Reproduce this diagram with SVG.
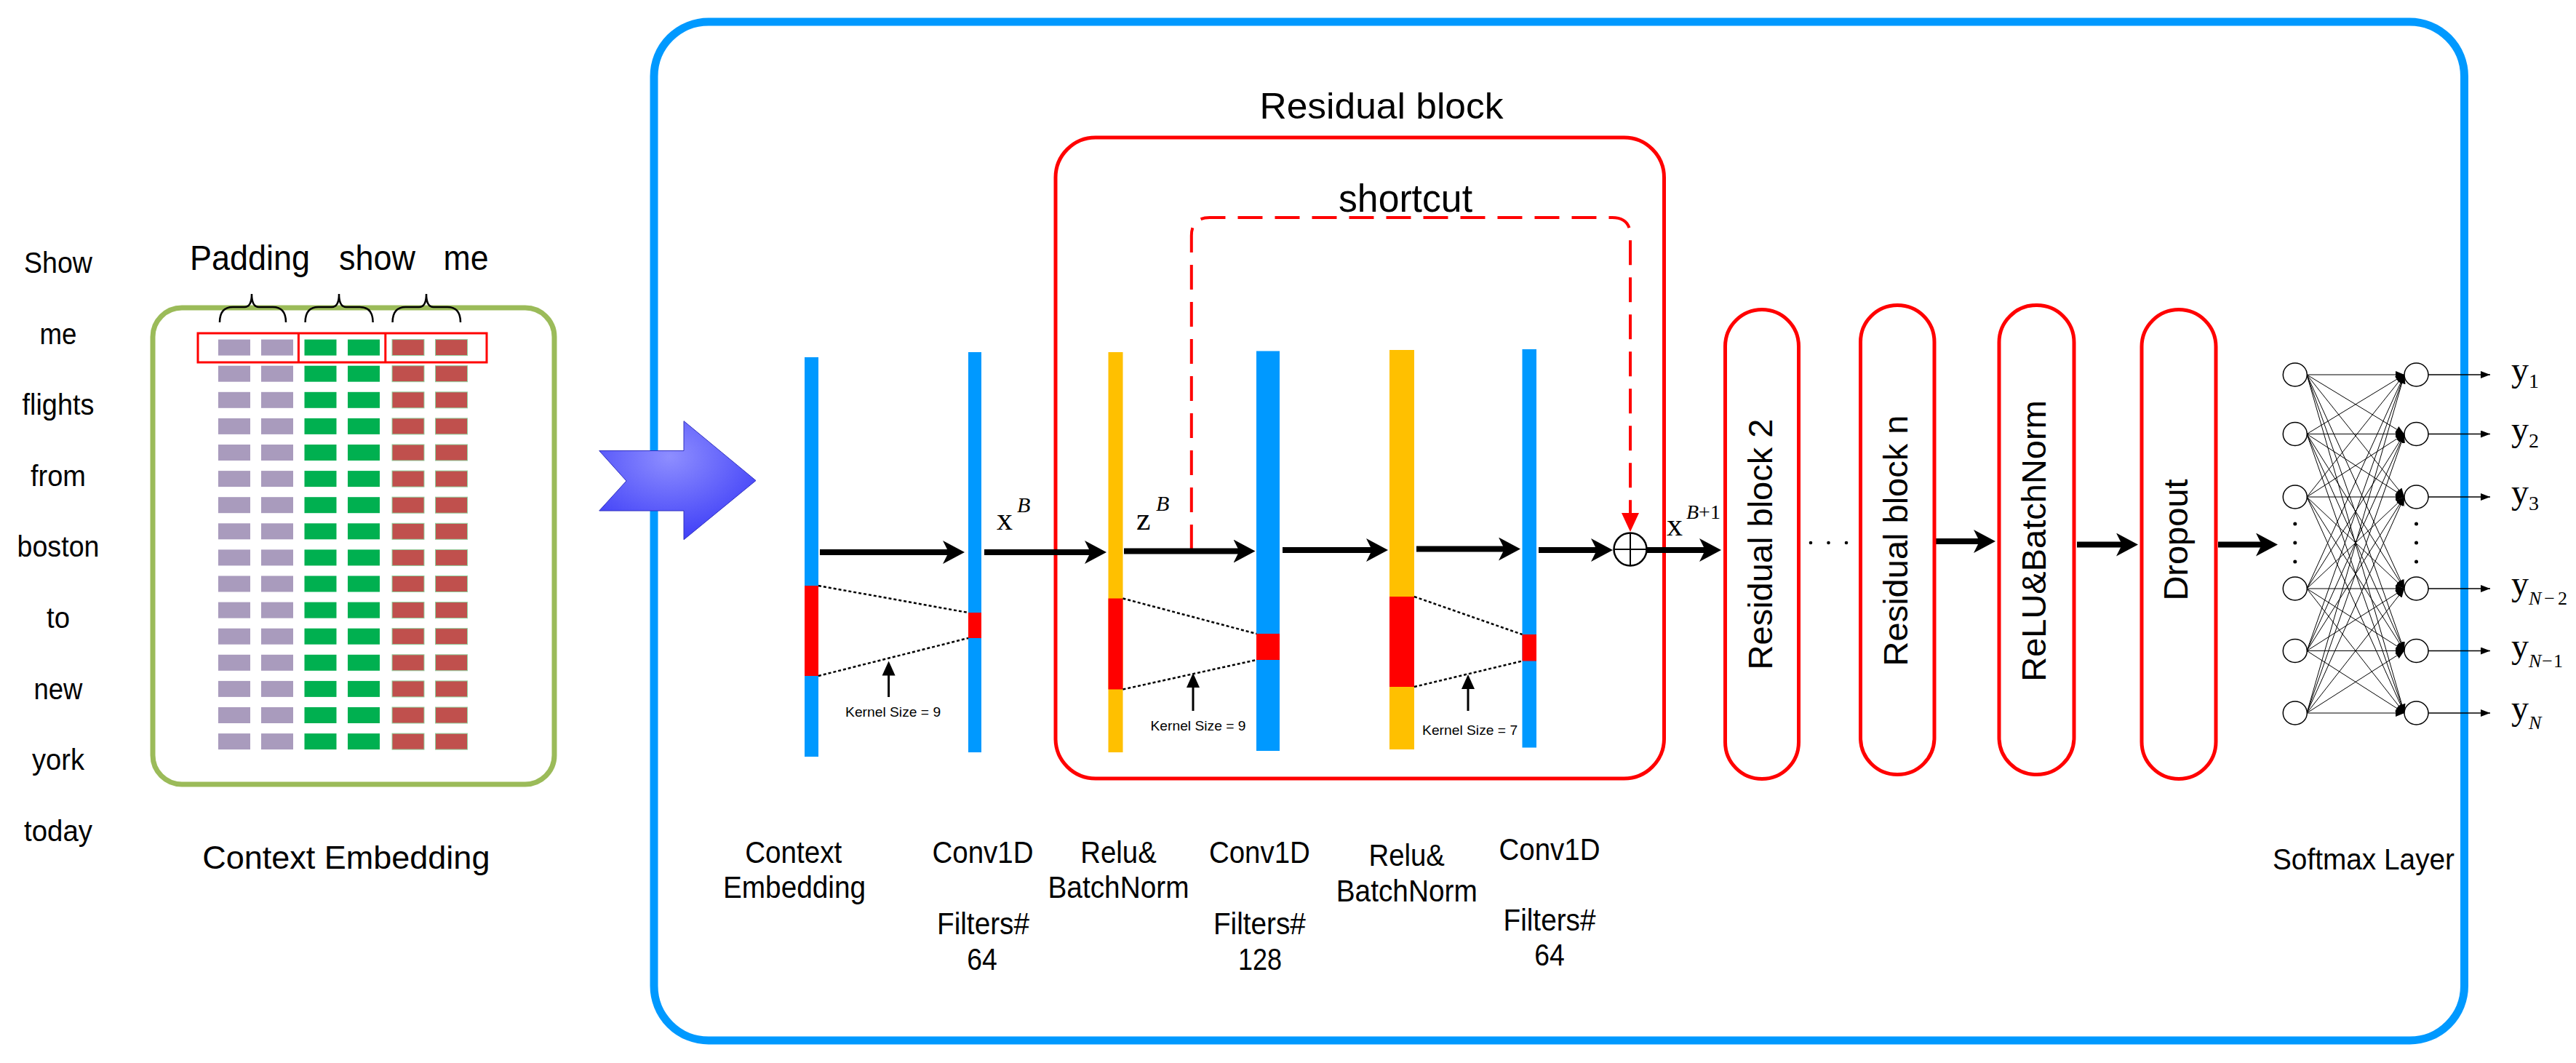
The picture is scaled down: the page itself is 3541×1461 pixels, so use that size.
<svg xmlns="http://www.w3.org/2000/svg" width="3541" height="1461" viewBox="0 0 3541 1461">
<defs>
<style>
.sans{font-family:"Liberation Sans",Arial,sans-serif;fill:#000}
.serif{font-family:"Liberation Serif","Times New Roman",serif;fill:#000}
.word{font-size:40px;text-anchor:middle}
.lbl{font-size:42px;text-anchor:middle}
.ks{font-size:19px;text-anchor:middle}
.pill{fill:#fff;stroke:#FF0000;stroke-width:5}
.ptxt{font-size:47px;text-anchor:middle}
.cp{fill:#A99BBD}
.cg{fill:#00B050}
.cr{fill:#C0504D;stroke:#8FD19E;stroke-width:1}
.blue{fill:#0099FF}
.yel{fill:#FFC000}
.red{fill:#FF0000}
.thick{stroke:#000;stroke-width:8;fill:none;marker-end:url(#big)}
.dot{stroke:#000;stroke-width:2.5;stroke-dasharray:4 3;fill:none}
.karr{stroke:#000;stroke-width:3;marker-end:url(#kh)}
.nn line{stroke:#000;stroke-width:1;marker-end:url(#nh)}
.node{fill:#fff;stroke:#000;stroke-width:1.5}
.out{stroke:#000;stroke-width:1.3;marker-end:url(#oh)}
.brace{fill:none;stroke:#000;stroke-width:2.5}
</style>
<marker id="big" markerUnits="userSpaceOnUse" viewBox="0 -16 30 32" refX="14" refY="0" markerWidth="30" markerHeight="32" orient="auto"><path d="M0,-16 L30,0 L0,16 L8,0 Z" fill="#000"/></marker>
<marker id="kh" markerUnits="userSpaceOnUse" viewBox="0 -10 20 20" refX="10" refY="0" markerWidth="20" markerHeight="20" orient="auto"><path d="M0,-9 L20,0 L0,9 Z" fill="#000"/></marker>
<marker id="nh" markerUnits="userSpaceOnUse" viewBox="0 -5 12 10" refX="12" refY="0" markerWidth="12" markerHeight="10" orient="auto"><path d="M0,-5 L12,0 L0,5 Z" fill="#000"/></marker>
<marker id="oh" markerUnits="userSpaceOnUse" viewBox="0 -5 13 10" refX="13" refY="0" markerWidth="13" markerHeight="10" orient="auto"><path d="M0,-5 L13,0 L0,5 Z" fill="#000"/></marker>
<radialGradient id="ag" cx="0.45" cy="0.3" r="0.8">
<stop offset="0" stop-color="#8E8EFF"/>
<stop offset="1" stop-color="#3434F6"/>
</radialGradient>
</defs>
<rect width="3541" height="1461" fill="#fff"/>

<g id="words">
<text class="sans word" x="80" y="375" textLength="94" lengthAdjust="spacingAndGlyphs">Show</text>
<text class="sans word" x="80" y="472.6" textLength="51" lengthAdjust="spacingAndGlyphs">me</text>
<text class="sans word" x="80" y="570.2" textLength="99" lengthAdjust="spacingAndGlyphs">flights</text>
<text class="sans word" x="80" y="667.8" textLength="76" lengthAdjust="spacingAndGlyphs">from</text>
<text class="sans word" x="80" y="765.4" textLength="113" lengthAdjust="spacingAndGlyphs">boston</text>
<text class="sans word" x="80" y="863" textLength="32" lengthAdjust="spacingAndGlyphs">to</text>
<text class="sans word" x="80" y="960.6" textLength="67" lengthAdjust="spacingAndGlyphs">new</text>
<text class="sans word" x="80" y="1058.2" textLength="72" lengthAdjust="spacingAndGlyphs">york</text>
<text class="sans word" x="80" y="1155.8" textLength="94" lengthAdjust="spacingAndGlyphs">today</text>
</g>

<g id="context-embedding">
<rect x="210" y="423" width="552" height="655" rx="40" fill="#fff" stroke="#9BBB59" stroke-width="7"/>
<g id="cells">
<g id="row0" transform="translate(0,466.6)"><rect class="cp" x="300" width="44" height="22"/><rect class="cp" x="359" width="44" height="22"/><rect class="cg" x="418.5" width="44" height="22"/><rect class="cg" x="478" width="44" height="22"/><rect class="cr" x="539" width="44" height="22"/><rect class="cr" x="598.5" width="44" height="22"/></g>
<g transform="translate(0,502.7)"><rect class="cp" x="300" width="44" height="22"/><rect class="cp" x="359" width="44" height="22"/><rect class="cg" x="418.5" width="44" height="22"/><rect class="cg" x="478" width="44" height="22"/><rect class="cr" x="539" width="44" height="22"/><rect class="cr" x="598.5" width="44" height="22"/></g>
<g transform="translate(0,538.8)"><rect class="cp" x="300" width="44" height="22"/><rect class="cp" x="359" width="44" height="22"/><rect class="cg" x="418.5" width="44" height="22"/><rect class="cg" x="478" width="44" height="22"/><rect class="cr" x="539" width="44" height="22"/><rect class="cr" x="598.5" width="44" height="22"/></g>
<g transform="translate(0,574.9)"><rect class="cp" x="300" width="44" height="22"/><rect class="cp" x="359" width="44" height="22"/><rect class="cg" x="418.5" width="44" height="22"/><rect class="cg" x="478" width="44" height="22"/><rect class="cr" x="539" width="44" height="22"/><rect class="cr" x="598.5" width="44" height="22"/></g>
<g transform="translate(0,611)"><rect class="cp" x="300" width="44" height="22"/><rect class="cp" x="359" width="44" height="22"/><rect class="cg" x="418.5" width="44" height="22"/><rect class="cg" x="478" width="44" height="22"/><rect class="cr" x="539" width="44" height="22"/><rect class="cr" x="598.5" width="44" height="22"/></g>
<g transform="translate(0,647.1)"><rect class="cp" x="300" width="44" height="22"/><rect class="cp" x="359" width="44" height="22"/><rect class="cg" x="418.5" width="44" height="22"/><rect class="cg" x="478" width="44" height="22"/><rect class="cr" x="539" width="44" height="22"/><rect class="cr" x="598.5" width="44" height="22"/></g>
<g transform="translate(0,683.2)"><rect class="cp" x="300" width="44" height="22"/><rect class="cp" x="359" width="44" height="22"/><rect class="cg" x="418.5" width="44" height="22"/><rect class="cg" x="478" width="44" height="22"/><rect class="cr" x="539" width="44" height="22"/><rect class="cr" x="598.5" width="44" height="22"/></g>
<g transform="translate(0,719.3)"><rect class="cp" x="300" width="44" height="22"/><rect class="cp" x="359" width="44" height="22"/><rect class="cg" x="418.5" width="44" height="22"/><rect class="cg" x="478" width="44" height="22"/><rect class="cr" x="539" width="44" height="22"/><rect class="cr" x="598.5" width="44" height="22"/></g>
<g transform="translate(0,755.4)"><rect class="cp" x="300" width="44" height="22"/><rect class="cp" x="359" width="44" height="22"/><rect class="cg" x="418.5" width="44" height="22"/><rect class="cg" x="478" width="44" height="22"/><rect class="cr" x="539" width="44" height="22"/><rect class="cr" x="598.5" width="44" height="22"/></g>
<g transform="translate(0,791.5)"><rect class="cp" x="300" width="44" height="22"/><rect class="cp" x="359" width="44" height="22"/><rect class="cg" x="418.5" width="44" height="22"/><rect class="cg" x="478" width="44" height="22"/><rect class="cr" x="539" width="44" height="22"/><rect class="cr" x="598.5" width="44" height="22"/></g>
<g transform="translate(0,827.6)"><rect class="cp" x="300" width="44" height="22"/><rect class="cp" x="359" width="44" height="22"/><rect class="cg" x="418.5" width="44" height="22"/><rect class="cg" x="478" width="44" height="22"/><rect class="cr" x="539" width="44" height="22"/><rect class="cr" x="598.5" width="44" height="22"/></g>
<g transform="translate(0,863.7)"><rect class="cp" x="300" width="44" height="22"/><rect class="cp" x="359" width="44" height="22"/><rect class="cg" x="418.5" width="44" height="22"/><rect class="cg" x="478" width="44" height="22"/><rect class="cr" x="539" width="44" height="22"/><rect class="cr" x="598.5" width="44" height="22"/></g>
<g transform="translate(0,899.8)"><rect class="cp" x="300" width="44" height="22"/><rect class="cp" x="359" width="44" height="22"/><rect class="cg" x="418.5" width="44" height="22"/><rect class="cg" x="478" width="44" height="22"/><rect class="cr" x="539" width="44" height="22"/><rect class="cr" x="598.5" width="44" height="22"/></g>
<g transform="translate(0,935.9)"><rect class="cp" x="300" width="44" height="22"/><rect class="cp" x="359" width="44" height="22"/><rect class="cg" x="418.5" width="44" height="22"/><rect class="cg" x="478" width="44" height="22"/><rect class="cr" x="539" width="44" height="22"/><rect class="cr" x="598.5" width="44" height="22"/></g>
<g transform="translate(0,972)"><rect class="cp" x="300" width="44" height="22"/><rect class="cp" x="359" width="44" height="22"/><rect class="cg" x="418.5" width="44" height="22"/><rect class="cg" x="478" width="44" height="22"/><rect class="cr" x="539" width="44" height="22"/><rect class="cr" x="598.5" width="44" height="22"/></g>
<g transform="translate(0,1008.1)"><rect class="cp" x="300" width="44" height="22"/><rect class="cp" x="359" width="44" height="22"/><rect class="cg" x="418.5" width="44" height="22"/><rect class="cg" x="478" width="44" height="22"/><rect class="cr" x="539" width="44" height="22"/><rect class="cr" x="598.5" width="44" height="22"/></g>
</g>
<g id="window" fill="none" stroke="#FF0000" stroke-width="3">
<rect x="272" y="458" width="397" height="40"/>
<line x1="410.4" y1="458" x2="410.4" y2="498"/>
<line x1="529.8" y1="458" x2="529.8" y2="498"/>
</g>
<g id="braces">
<path class="brace" d="M302,443 C302,430 307,422 320,422 L336,422 C343,422 346,416 346,404 C346,416 349,422 356,422 L375,422 C388,422 393,430 393,443"/>
<path class="brace" d="M419.6,443 C419.6,430 424.6,422 437.6,422 L456,422 C463,422 466,416 466,404 C466,416 469,422 476,422 L494.6,422 C507.6,422 512.6,430 512.6,443"/>
<path class="brace" d="M539.6,443 C539.6,430 544.6,422 557.6,422 L576,422 C583,422 586,416 586,404 C586,416 589,422 596,422 L615,422 C628,422 633,430 633,443"/>
</g>
<text class="sans" x="343.5" y="371" font-size="48" text-anchor="middle" textLength="165" lengthAdjust="spacingAndGlyphs">Padding</text>
<text class="sans" x="518.5" y="371" font-size="48" text-anchor="middle" textLength="105" lengthAdjust="spacingAndGlyphs">show</text>
<text class="sans" x="640.6" y="371" font-size="48" text-anchor="middle" textLength="62" lengthAdjust="spacingAndGlyphs">me</text>
<text class="sans" x="475.8" y="1194" font-size="45" text-anchor="middle">Context Embedding</text>
</g>

<g id="model-frame">
<rect x="899" y="30" width="2488.5" height="1400" rx="75" fill="none" stroke="#0099FF" stroke-width="11"/>
</g>

<g id="big-arrow">
<path d="M823.7,619.5 L940,619.5 L940,578.7 L1039,660.5 L940,741.7 L940,702 L823.7,702 L861,661 Z" fill="url(#ag)" stroke="#3030C0" stroke-width="1"/>
</g>

<g id="residual-block">
<rect x="1451" y="189" width="836.5" height="881" rx="55" fill="none" stroke="#FF0000" stroke-width="5"/>
<text class="sans" x="1899" y="163" font-size="50" text-anchor="middle" textLength="335" lengthAdjust="spacingAndGlyphs">Residual block</text>
</g>

<g id="shortcut">
<path d="M1637.8,755 V324 Q1637.8,299 1662.8,299 H2216 Q2241,299 2241,324 V706" fill="none" stroke="#FF0000" stroke-width="4" stroke-dasharray="34 17"/>
<polygon points="2229,705 2253,705 2241,731" fill="#FF0000"/>
<text class="sans" x="1932" y="291" font-size="53" text-anchor="middle" textLength="184" lengthAdjust="spacingAndGlyphs">shortcut</text>
</g>

<g id="bar-context">
<rect class="blue" x="1106" y="491" width="19" height="549"/>
<rect class="red" x="1106" y="805" width="19" height="124"/>
</g>
<g id="bar-conv1">
<rect class="blue" x="1331" y="484" width="18" height="550"/>
<rect class="red" x="1331" y="842" width="18" height="35"/>
</g>
<g id="bar-relu1">
<rect class="yel" x="1523.5" y="484" width="20" height="550"/>
<rect class="red" x="1523.5" y="822.5" width="20" height="125"/>
</g>
<g id="bar-conv2">
<rect class="blue" x="1727" y="482.5" width="32" height="549.5"/>
<rect class="red" x="1727" y="871" width="32" height="36"/>
</g>
<g id="bar-relu2">
<rect class="yel" x="1910" y="481" width="34" height="549"/>
<rect class="red" x="1910" y="820" width="34" height="124"/>
</g>
<g id="bar-conv3">
<rect class="blue" x="2092.5" y="480" width="19.5" height="547.5"/>
<rect class="red" x="2092.5" y="872" width="19.5" height="36.5"/>
</g>

<g id="kernels">
<line class="dot" x1="1125" y1="805" x2="1331" y2="842"/>
<line class="dot" x1="1125" y1="929" x2="1331" y2="877"/>
<line class="dot" x1="1543.5" y1="822.5" x2="1727" y2="871"/>
<line class="dot" x1="1543.5" y1="947.5" x2="1727" y2="907"/>
<line class="dot" x1="1944" y1="820" x2="2092.5" y2="872"/>
<line class="dot" x1="1944" y1="944" x2="2092.5" y2="908.5"/>
<line class="karr" x1="1221.6" y1="958" x2="1221.6" y2="918.5"/>
<line class="karr" x1="1640" y1="977" x2="1640" y2="935"/>
<line class="karr" x1="2018" y1="977" x2="2018" y2="937"/>
<text class="sans ks" x="1227.6" y="985" textLength="131" lengthAdjust="spacingAndGlyphs">Kernel Size = 9</text>
<text class="sans ks" x="1647" y="1004" textLength="131" lengthAdjust="spacingAndGlyphs">Kernel Size = 9</text>
<text class="sans ks" x="2020.6" y="1010" textLength="131" lengthAdjust="spacingAndGlyphs">Kernel Size = 7</text>
</g>

<g id="add-node">
<circle cx="2241" cy="755" r="22.5" fill="#fff" stroke="#000" stroke-width="2.5"/>
<line x1="2218.5" y1="755" x2="2263.5" y2="755" stroke="#000" stroke-width="2"/>
<line x1="2241" y1="732.5" x2="2241" y2="777.5" stroke="#000" stroke-width="2"/>
</g>

<g id="connectors">
<line class="thick" x1="1127" y1="759" x2="1310" y2="759"/>
<line class="thick" x1="1353" y1="759" x2="1505" y2="759"/>
<line class="thick" x1="1545" y1="757.5" x2="1709.5" y2="757.5"/>
<line class="thick" x1="1763" y1="756" x2="1892" y2="756"/>
<line class="thick" x1="1947" y1="754.5" x2="2074" y2="754.5"/>
<line class="thick" x1="2115" y1="756" x2="2201" y2="756"/>
<line class="thick" x1="2264" y1="756" x2="2350" y2="756"/>
<line class="thick" x1="2661" y1="744" x2="2727" y2="744"/>
<line class="thick" x1="2855" y1="748.5" x2="2923" y2="748.5"/>
<line class="thick" x1="3049" y1="748.5" x2="3115" y2="748.5"/>
</g>

<g id="signal-labels">
<text class="serif" x="1370" y="728" font-size="44">x</text>
<text class="serif" x="1398" y="704" font-size="30" font-style="italic">B</text>
<text class="serif" x="1562" y="728" font-size="44">z</text>
<text class="serif" x="1589" y="702" font-size="30" font-style="italic">B</text>
<text class="serif" x="2291" y="736" font-size="44">x</text>
<text class="serif" x="2318" y="713" font-size="28"><tspan font-style="italic">B</tspan>+1</text>
</g>

<g id="residual-block-2">
<rect class="pill" x="2371.5" y="425.5" width="101" height="645" rx="50.5"/>
<text class="sans ptxt" transform="translate(2436,748) rotate(-90)">Residual block 2</text>
</g>
<g id="ellipsis">
<circle cx="2489" cy="746" r="2.3"/><circle cx="2513.5" cy="746" r="2.3"/><circle cx="2538" cy="746" r="2.3"/>
</g>
<g id="residual-block-n">
<rect class="pill" x="2557.5" y="419.5" width="101.5" height="645" rx="50.5"/>
<text class="sans ptxt" transform="translate(2622,743) rotate(-90)">Residual block n</text>
</g>
<g id="relu-batchnorm">
<rect class="pill" x="2748" y="419.5" width="103" height="645" rx="51"/>
<text class="sans ptxt" transform="translate(2812,743.5) rotate(-90)">ReLU&amp;BatchNorm</text>
</g>
<g id="dropout">
<rect class="pill" x="2944" y="425.5" width="102" height="645" rx="51"/>
<text class="sans ptxt" transform="translate(3007,742) rotate(-90)">Dropout</text>
</g>

<g id="softmax-layer">
<g class="nn">
<line x1="3171" y1="515" x2="3305" y2="515"/><line x1="3171" y1="515" x2="3305" y2="596.5"/><line x1="3171" y1="515" x2="3305" y2="683"/><line x1="3171" y1="515" x2="3305" y2="809"/><line x1="3171" y1="515" x2="3305" y2="894.5"/><line x1="3171" y1="515" x2="3305" y2="980"/>
<line x1="3171" y1="596.5" x2="3305" y2="515"/><line x1="3171" y1="596.5" x2="3305" y2="596.5"/><line x1="3171" y1="596.5" x2="3305" y2="683"/><line x1="3171" y1="596.5" x2="3305" y2="809"/><line x1="3171" y1="596.5" x2="3305" y2="894.5"/><line x1="3171" y1="596.5" x2="3305" y2="980"/>
<line x1="3171" y1="683" x2="3305" y2="515"/><line x1="3171" y1="683" x2="3305" y2="596.5"/><line x1="3171" y1="683" x2="3305" y2="683"/><line x1="3171" y1="683" x2="3305" y2="809"/><line x1="3171" y1="683" x2="3305" y2="894.5"/><line x1="3171" y1="683" x2="3305" y2="980"/>
<line x1="3171" y1="809" x2="3305" y2="515"/><line x1="3171" y1="809" x2="3305" y2="596.5"/><line x1="3171" y1="809" x2="3305" y2="683"/><line x1="3171" y1="809" x2="3305" y2="809"/><line x1="3171" y1="809" x2="3305" y2="894.5"/><line x1="3171" y1="809" x2="3305" y2="980"/>
<line x1="3171" y1="894.5" x2="3305" y2="515"/><line x1="3171" y1="894.5" x2="3305" y2="596.5"/><line x1="3171" y1="894.5" x2="3305" y2="683"/><line x1="3171" y1="894.5" x2="3305" y2="809"/><line x1="3171" y1="894.5" x2="3305" y2="894.5"/><line x1="3171" y1="894.5" x2="3305" y2="980"/>
<line x1="3171" y1="980" x2="3305" y2="515"/><line x1="3171" y1="980" x2="3305" y2="596.5"/><line x1="3171" y1="980" x2="3305" y2="683"/><line x1="3171" y1="980" x2="3305" y2="809"/><line x1="3171" y1="980" x2="3305" y2="894.5"/><line x1="3171" y1="980" x2="3305" y2="980"/>
</g>
<g id="nn-nodes">
<ellipse class="node" cx="3154.8" cy="515" rx="16.5" ry="16"/><ellipse class="node" cx="3154.8" cy="596.5" rx="16.5" ry="16"/><ellipse class="node" cx="3154.8" cy="683" rx="16.5" ry="16"/><ellipse class="node" cx="3154.8" cy="809" rx="16.5" ry="16"/><ellipse class="node" cx="3154.8" cy="894.5" rx="16.5" ry="16"/><ellipse class="node" cx="3154.8" cy="980" rx="16.5" ry="16"/>
<ellipse class="node" cx="3321.5" cy="515" rx="16.5" ry="16"/><ellipse class="node" cx="3321.5" cy="596.5" rx="16.5" ry="16"/><ellipse class="node" cx="3321.5" cy="683" rx="16.5" ry="16"/><ellipse class="node" cx="3321.5" cy="809" rx="16.5" ry="16"/><ellipse class="node" cx="3321.5" cy="894.5" rx="16.5" ry="16"/><ellipse class="node" cx="3321.5" cy="980" rx="16.5" ry="16"/>
<circle cx="3154.8" cy="720" r="2.5"/><circle cx="3154.8" cy="746" r="2.5"/><circle cx="3154.8" cy="772" r="2.5"/>
<circle cx="3321.5" cy="720" r="2.5"/><circle cx="3321.5" cy="746" r="2.5"/><circle cx="3321.5" cy="772" r="2.5"/>
</g>
<g id="outputs">
<line class="out" x1="3338" y1="515" x2="3423" y2="515"/>
<line class="out" x1="3338" y1="596.5" x2="3423" y2="596.5"/>
<line class="out" x1="3338" y1="683" x2="3423" y2="683"/>
<line class="out" x1="3338" y1="809" x2="3423" y2="809"/>
<line class="out" x1="3338" y1="894.5" x2="3423" y2="894.5"/>
<line class="out" x1="3338" y1="980" x2="3423" y2="980"/>
</g>
<g id="output-labels">
<text class="serif" x="3452" y="524" font-size="48">y</text><text class="serif" x="3476" y="533" font-size="28">1</text>
<text class="serif" x="3452" y="605.5" font-size="48">y</text><text class="serif" x="3476" y="614.5" font-size="28">2</text>
<text class="serif" x="3452" y="692" font-size="48">y</text><text class="serif" x="3476" y="701" font-size="28">3</text>
<text class="serif" x="3452" y="818" font-size="48">y</text><text class="serif" x="3476" y="831" font-size="26" textLength="53" lengthAdjust="spacing"><tspan font-style="italic">N</tspan>−2</text>
<text class="serif" x="3452" y="903.5" font-size="48">y</text><text class="serif" x="3476" y="916.5" font-size="26" textLength="47" lengthAdjust="spacing"><tspan font-style="italic">N</tspan>−1</text>
<text class="serif" x="3452" y="989" font-size="48">y</text><text class="serif" x="3476" y="1002" font-size="26" font-style="italic">N</text>
</g>
<text class="sans" x="3249" y="1195" font-size="40" text-anchor="middle" textLength="250" lengthAdjust="spacingAndGlyphs">Softmax Layer</text>
</g>

<g id="bottom-labels">
<text class="sans lbl" x="1090.7" y="1186" textLength="133" lengthAdjust="spacingAndGlyphs">Context</text>
<text class="sans lbl" x="1092" y="1234" textLength="196" lengthAdjust="spacingAndGlyphs">Embedding</text>
<text class="sans lbl" x="1351" y="1186" textLength="139" lengthAdjust="spacingAndGlyphs">Conv1D</text>
<text class="sans lbl" x="1351.5" y="1284" textLength="127" lengthAdjust="spacingAndGlyphs">Filters#</text>
<text class="sans lbl" x="1350" y="1333" textLength="41.5" lengthAdjust="spacingAndGlyphs">64</text>
<text class="sans lbl" x="1537.5" y="1186" textLength="104.5" lengthAdjust="spacingAndGlyphs">Relu&amp;</text>
<text class="sans lbl" x="1537.5" y="1234" textLength="194" lengthAdjust="spacingAndGlyphs">BatchNorm</text>
<text class="sans lbl" x="1731.4" y="1186" textLength="139" lengthAdjust="spacingAndGlyphs">Conv1D</text>
<text class="sans lbl" x="1731.4" y="1284" textLength="127" lengthAdjust="spacingAndGlyphs">Filters#</text>
<text class="sans lbl" x="1732" y="1333" textLength="60" lengthAdjust="spacingAndGlyphs">128</text>
<text class="sans lbl" x="1933.7" y="1190" textLength="104.5" lengthAdjust="spacingAndGlyphs">Relu&amp;</text>
<text class="sans lbl" x="1933.7" y="1238.5" textLength="194" lengthAdjust="spacingAndGlyphs">BatchNorm</text>
<text class="sans lbl" x="2130" y="1182" textLength="139" lengthAdjust="spacingAndGlyphs">Conv1D</text>
<text class="sans lbl" x="2130" y="1279" textLength="127" lengthAdjust="spacingAndGlyphs">Filters#</text>
<text class="sans lbl" x="2130" y="1327" textLength="41.5" lengthAdjust="spacingAndGlyphs">64</text>
</g>
</svg>
